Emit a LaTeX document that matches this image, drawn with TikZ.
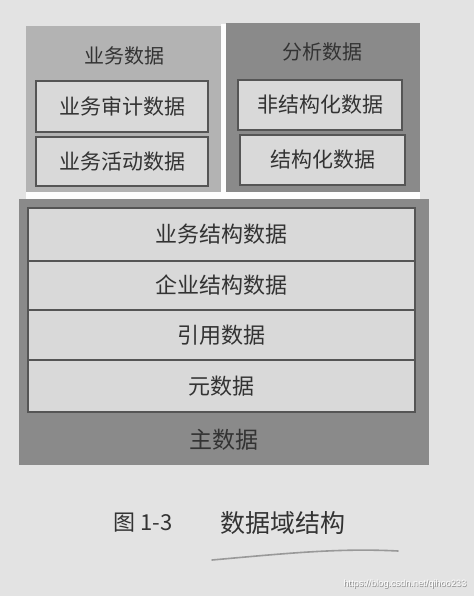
\documentclass[tikz,border=0pt]{standalone}
\usepackage{fontspec}
\newfontfamily\cjk{Noto Sans CJK SC}
\setsansfont{Liberation Sans}
\definecolor{page}{HTML}{E3E3E3}
\definecolor{lightpanel}{HTML}{B3B3B3}
\definecolor{darkpanel}{HTML}{8A8A8A}
\definecolor{boxfill}{HTML}{D9D9D9}
\definecolor{boxline}{HTML}{555555}
\definecolor{ink}{HTML}{333333}
\tikzset{
  panel/.style={rectangle, inner sep=0pt},
  inbox/.style={rectangle, inner sep=0pt, fill=boxfill, draw=boxline, line width=1.6pt,
    font=\cjk\fontsize{21}{24}\selectfont, text=ink},
  strip/.style={rectangle, inner sep=0pt, fill=boxfill, draw=boxline, line width=1.6pt,
    minimum width=387pt, font=\cjk\fontsize{22}{25}\selectfont, text=ink},
  title/.style={font=\cjk\fontsize{20}{23}\selectfont, text=ink, inner sep=0pt},
  caption/.style={font=\cjk\fontsize{25}{28}\selectfont, text=ink, inner sep=0pt},
  wmark/.style={font=\fontsize{9.2}{10}\selectfont\sffamily, inner sep=0pt}
}
\begin{document}
\begin{tikzpicture}[x=1pt,y=-1pt]
\fill[page] (0,0) rectangle (474,596);
\useasboundingbox (0,0) rectangle (474,596);
% white gaps between the panels
\fill[white!96!page] (221,24) rectangle (226,199);
\fill[white!96!page] (26,191) rectangle (420,199);
% top panels
\node[panel, fill=lightpanel, minimum width=195pt, minimum height=165pt] (biz) at (123.5,109) {};
\node[panel, fill=darkpanel, minimum width=194pt, minimum height=168pt] (ana) at (323,107.5) {};
\node[title] (bizt) at (124,56) {业务数据};
\node[title] (anat) at (322,52) {分析数据};
\node[inbox, minimum width=172pt, minimum height=51pt] (audit) at (122,106.5) {业务审计数据};
\node[inbox, minimum width=172pt, minimum height=49pt] (act) at (122,161.5) {业务活动数据};
\node[inbox, minimum width=164pt, minimum height=50pt] (unst) at (320,105) {非结构化数据};
\node[inbox, minimum width=165pt, minimum height=50pt] (st) at (322.5,160) {结构化数据};
% bottom panel
\node[panel, fill=darkpanel, minimum width=410pt, minimum height=266pt] (base) at (224,332) {};
\node[strip, minimum height=53pt] (s1) at (221.5,234.5) {业务结构数据};
\node[strip, minimum height=49pt] (s2) at (221.5,285.5) {企业结构数据};
\node[strip, minimum height=50pt] (s3) at (221.5,335) {引用数据};
\node[strip, minimum height=52pt] (s4) at (221.5,386) {元数据};
\node[title, font=\cjk\fontsize{23}{26}\selectfont] (master) at (224,440) {主数据};
% caption
\node[caption, font=\fontsize{22}{26}\selectfont\cjk] (fig) at (143,523) {图 1-3};
\node[caption] (cap) at (283,523) {数据域结构};
\coordinate (u1) at (212,560);
\coordinate (u2) at (398,551);
\draw[gray!80, line width=1.6pt, line cap=round] (u1) .. controls (290,553) and (340,548) .. (u2);
\node[wmark, text=gray!90] (wms) at (405.8,584.8) {https://blog.csdn.net/qihoo233};
\node[wmark, text=white] (wm) at (405,584) {https://blog.csdn.net/qihoo233};
\end{tikzpicture}
\end{document}
